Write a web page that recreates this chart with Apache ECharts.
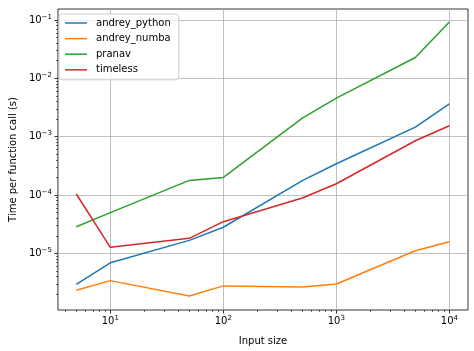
<!DOCTYPE html>
<html>
<head>
    <meta charset="utf-8">
    <title>timing</title>
    <script src="https://cdn.jsdelivr.net/npm/echarts@6/dist/echarts.min.js"></script>
</head>
<body style="margin:0">
    <div id="main" style="width:474px;height:351px;"></div>
    <script type="text/javascript">
// input sizes
var sizes = [5, 10, 50, 100, 500, 1000, 5000, 10000];
// seconds per call
var andrey_python = [2.94e-6, 6.9e-6, 1.67e-5, 2.8e-5, 1.76e-4, 3.43e-4, 1.46e-3, 3.66e-3];
var andrey_numba  = [2.33e-6, 3.41e-6, 1.86e-6, 2.77e-6, 2.65e-6, 2.99e-6, 1.11e-5, 1.58e-5];
var pranav        = [2.86e-5, 5.0e-5, 1.78e-4, 2.0e-4, 2.08e-3, 4.58e-3, 2.27e-2, 9.2e-2];
var timeless      = [1.04e-4, 1.27e-5, 1.81e-5, 3.49e-5, 8.9e-5, 1.56e-4, 8.5e-4, 1.54e-3];

var xMajor = [10, 100, 1000, 10000];
var yMajor = [1e-5, 1e-4, 1e-3, 1e-2, 1e-1];
var xMin = 3.44, xMax = 14620;
var yMin = 1.07e-6, yMax = 0.154;

// minor ticks at 2..9 x 10^k inside the range
function minors(lo, hi) {
    var out = [];
    for (var e = Math.floor(Math.log10(lo)); e <= Math.ceil(Math.log10(hi)); e++) {
        for (var m = 2; m <= 9; m++) {
            var v = m * Math.pow(10, e);
            if (v > lo && v < hi) out.push(v);
        }
    }
    return out;
}

function pow10Label(v) {
    var e = Math.round(Math.log10(v));
    var s = e < 0 ? '\u2212' + (-e) : '' + e;
    return '{b|10}{s|' + s + '}';
}
var rich = {
    b: {fontSize: 10, fontFamily: 'DejaVu Sans', color: '#000'},
    s: {fontSize: 7, fontFamily: 'DejaVu Sans', color: '#000', verticalAlign: 'top', padding: [0, 0, 6, 0]}
};

var names = ['andrey_python', 'andrey_numba', 'pranav', 'timeless'];
var values = [andrey_python, andrey_numba, pranav, timeless];
var colors = ['#1f77b4', '#ff7f0e', '#2ca02c', '#d62728'];

var series = names.map(function (n, i) {
    return {
        name: n, type: 'line', showSymbol: false, symbol: 'none',
        xAxisIndex: 0, yAxisIndex: 0,
        data: sizes.map(function (x, j) { return [x, values[i][j]]; }),
        lineStyle: {width: 1.5, color: colors[i]},
        itemStyle: {color: colors[i]}
    };
});

var myChart = echarts.init(document.getElementById('main'));
option = {
    animation: false,
    backgroundColor: '#fff',
    grid: {left: 57.7, right: 6, top: 9, bottom: 41, show: true, borderColor: '#000', borderWidth: 0.8, backgroundColor: 'transparent'},
    legend: {
        orient: 'vertical', left: 59, top: 14,
        padding: [3, 8, 4, 6], itemGap: 3.6,
        backgroundColor: 'rgba(255,255,255,0.8)', borderColor: '#ccc', borderWidth: 1, borderRadius: 3,
        icon: 'rect', itemWidth: 22, itemHeight: 1.5,
        textStyle: {fontSize: 10, fontFamily: 'DejaVu Sans', color: '#000', lineHeight: 12, padding: [0, 0, 0, 4]},
        data: names
    },
    xAxis: [{
        type: 'log', min: xMin, max: xMax,
        name: 'Input size', nameLocation: 'middle', nameGap: 26,
        nameTextStyle: {fontSize: 10, fontFamily: 'DejaVu Sans', color: '#000'},
        axisLine: {show: false},
        axisTick: {customValues: xMajor, length: 3.5, lineStyle: {color: '#000', width: 0.8}},
        axisLabel: {customValues: xMajor, formatter: pow10Label, rich: rich, margin: 5},
        splitLine: {show: true, lineStyle: {color: '#b0b0b0', width: 0.8}},
        minorTick: {show: false}
    }, {
        type: 'log', min: xMin, max: xMax, position: 'bottom',
        axisLine: {show: false},
        axisTick: {customValues: minors(xMin, xMax), length: 2, lineStyle: {color: '#000', width: 0.6}},
        axisLabel: {show: false},
        splitLine: {show: false}
    }],
    yAxis: [{
        type: 'log', min: yMin, max: yMax,
        name: 'Time per function call (s)', nameLocation: 'middle', nameGap: 38,
        nameTextStyle: {fontSize: 10, fontFamily: 'DejaVu Sans', color: '#000'},
        axisLine: {show: false},
        axisTick: {customValues: yMajor, length: 3.5, lineStyle: {color: '#000', width: 0.8}},
        axisLabel: {customValues: yMajor, formatter: pow10Label, rich: rich, margin: 6},
        splitLine: {show: true, lineStyle: {color: '#b0b0b0', width: 0.8}}
    }, {
        type: 'log', min: yMin, max: yMax, position: 'left',
        axisLine: {show: false},
        axisTick: {customValues: minors(yMin, yMax), length: 2, lineStyle: {color: '#000', width: 0.6}},
        axisLabel: {show: false},
        splitLine: {show: false}
    }],
    series: series
};
myChart.setOption(option);
    </script>
</body>
</html>
